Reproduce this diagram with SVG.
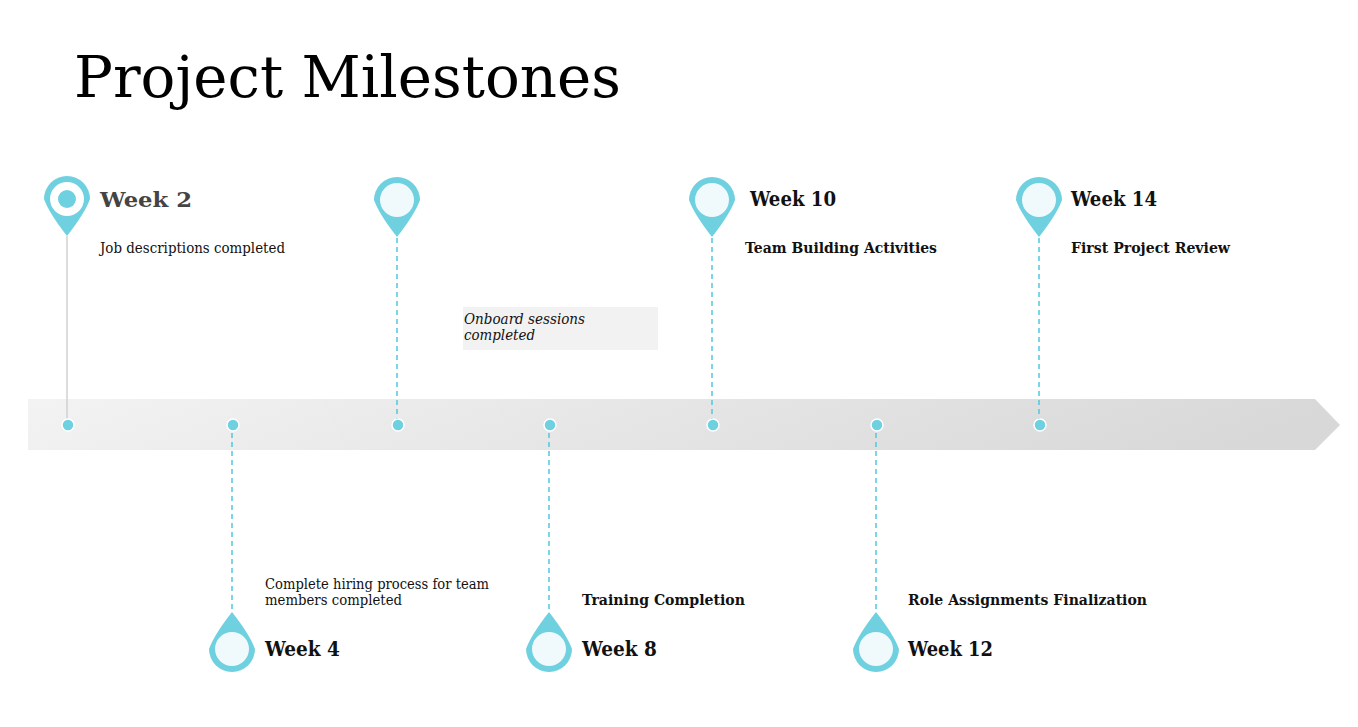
<svg xmlns="http://www.w3.org/2000/svg" width="1358" height="727" viewBox="0 0 1358 727">
<defs>
<linearGradient id="band" x1="0" y1="0" x2="1" y2="0.1"><stop offset="0" stop-color="#f3f3f3"/><stop offset="1" stop-color="#d8d8d8"/></linearGradient>
<path id="pinDown" d="M-23,0 A23,23 0 1 1 23,0 Q18,14 0,37 Q-18,14 -23,0 Z"/>
<path id="pinUp" d="M-23,0 A23,23 0 1 0 23,0 Q18,-14 0,-37 Q-18,-14 -23,0 Z"/>
</defs>
<style>
.pin{fill:#6fd0e0}
.in{fill:#f0f9fb}
.dot{fill:#6fd0e0;stroke:#fff;stroke-width:1.5}
.dash{stroke:#4fc8dc;stroke-width:1.5;stroke-dasharray:5,4;fill:none}
.wk{font-family:"DejaVu Serif","Liberation Serif",serif;font-weight:bold;font-size:20px;fill:#111}
.t{font-family:"DejaVu Serif","Liberation Serif",serif;font-size:14px;fill:#111}
.tb{font-family:"DejaVu Serif","Liberation Serif",serif;font-size:14px;font-weight:bold;fill:#111}
</style>
<rect width="1358" height="727" fill="#fff"/>
<text x="74" y="97" font-family="DejaVu Serif,Liberation Serif,serif" font-size="58" fill="#000" textLength="547" lengthAdjust="spacingAndGlyphs">Project Milestones</text>
<path d="M28,399 H1315 L1340,425 L1315,450 H28 Z" fill="url(#band)"/>
<g id="connectors">
<line x1="67" y1="236" x2="67" y2="424" stroke="#d0d0d0" stroke-width="1.5"/>
<line class="dash" x1="232" y1="424" x2="232" y2="612"/>
<line class="dash" x1="397" y1="238" x2="397" y2="424"/>
<line class="dash" x1="549" y1="424" x2="549" y2="612"/>
<line class="dash" x1="712" y1="238" x2="712" y2="424"/>
<line class="dash" x1="876" y1="424" x2="876" y2="612" stroke="#6aaec8"/>
<line class="dash" x1="1039" y1="238" x2="1039" y2="424"/>
</g>
<g id="dots">
<circle class="dot" cx="68" cy="425" r="6"/><circle class="dot" cx="233" cy="425" r="6"/><circle class="dot" cx="398" cy="425" r="6"/><circle class="dot" cx="550" cy="425" r="6"/><circle class="dot" cx="713" cy="425" r="6"/><circle class="dot" cx="877" cy="425" r="6"/><circle class="dot" cx="1040" cy="425" r="6"/>
</g>
<g id="w2">
<use href="#pinDown" class="pin" x="67" y="199"/>
<circle cx="67" cy="199" r="17" fill="#fff"/><circle cx="67" cy="199" r="9" class="pin"/>
<text class="wk" x="100" y="207" fill="#444" style="fill:#444" textLength="92" lengthAdjust="spacingAndGlyphs">Week 2</text>
<text class="t" x="100" y="253" textLength="185" lengthAdjust="spacingAndGlyphs">Job descriptions completed</text>
</g>
<g id="w6">
<use href="#pinDown" class="pin" x="397" y="200"/>
<circle cx="397" cy="200" r="17" class="in"/>
<rect x="463" y="307" width="195" height="43" fill="#f2f2f2"/>
<text class="t" x="464" y="324" font-style="italic" textLength="121" lengthAdjust="spacingAndGlyphs">Onboard sessions</text>
<text class="t" x="464" y="340" font-style="italic" textLength="71" lengthAdjust="spacingAndGlyphs">completed</text>
</g>
<g id="w10">
<use href="#pinDown" class="pin" x="712" y="200"/>
<circle cx="712" cy="200" r="17" class="in"/>
<text class="wk" x="750" y="206" textLength="86" lengthAdjust="spacingAndGlyphs">Week 10</text>
<text class="tb" x="745" y="253" textLength="192" lengthAdjust="spacingAndGlyphs">Team Building Activities</text>
</g>
<g id="w14">
<use href="#pinDown" class="pin" x="1039" y="200"/>
<circle cx="1039" cy="200" r="17" class="in"/>
<text class="wk" x="1071" y="206" textLength="86" lengthAdjust="spacingAndGlyphs">Week 14</text>
<text class="tb" x="1071" y="253" textLength="159" lengthAdjust="spacingAndGlyphs">First Project Review</text>
</g>
<g id="w4">
<use href="#pinUp" class="pin" x="232" y="649"/>
<circle cx="232" cy="649" r="17" class="in"/>
<text class="wk" x="265" y="656" textLength="75" lengthAdjust="spacingAndGlyphs">Week 4</text>
<text class="t" x="265" y="589" textLength="224" lengthAdjust="spacingAndGlyphs">Complete hiring process for team</text>
<text class="t" x="265" y="605" textLength="137" lengthAdjust="spacingAndGlyphs">members completed</text>
</g>
<g id="w8">
<use href="#pinUp" class="pin" x="549" y="649"/>
<circle cx="549" cy="649" r="17" class="in"/>
<text class="wk" x="582" y="656" textLength="75" lengthAdjust="spacingAndGlyphs">Week 8</text>
<text class="tb" x="582" y="605" textLength="163" lengthAdjust="spacingAndGlyphs">Training Completion</text>
</g>
<g id="w12">
<use href="#pinUp" class="pin" x="876" y="649"/>
<circle cx="876" cy="649" r="17" class="in"/>
<text class="wk" x="908" y="656" textLength="85" lengthAdjust="spacingAndGlyphs">Week 12</text>
<text class="tb" x="908" y="605" textLength="239" lengthAdjust="spacingAndGlyphs">Role Assignments Finalization</text>
</g>
</svg>
